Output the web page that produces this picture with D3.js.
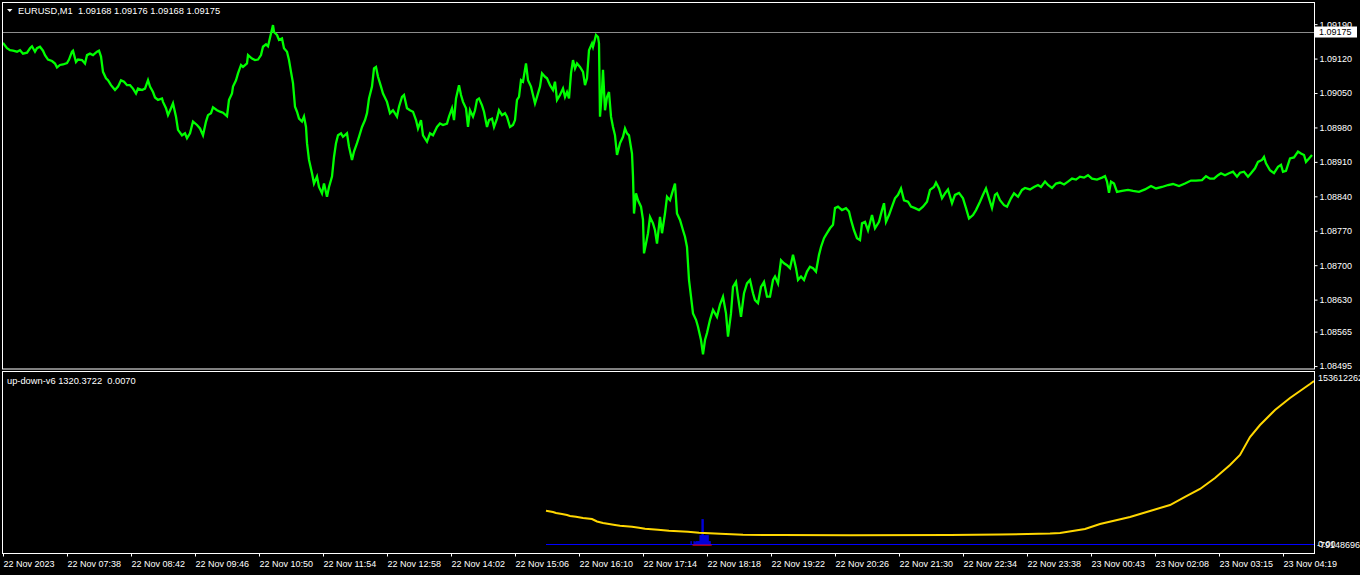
<!DOCTYPE html>
<html>
<head>
<meta charset="utf-8">
<script src="https://cdn.jsdelivr.net/npm/d3@7"></script>
<style>
  body { margin: 0; background: #000; }
  svg { display: block; font-family: "Liberation Sans", Arial, sans-serif; }
</style>
</head>
<body>
<div id="chart"></div>
<script>
// EURUSD M1, minutes counted from the first visible bar (22 Nov 06:34)
const symbol = "EURUSD,M1";
const titleOHLC = ["1.09168", "1.09176", "1.09168", "1.09175"];
const bidPrice = 1.09175;

const closeMorning = [[0,1.09152],[4,1.09141],[7,1.09137],[10,1.09136],[14,1.09134],[17,1.09137],[20,1.09130],[24,1.09132],[27,1.09141],[29,1.09145],[32,1.09134],[34,1.09141],[37,1.09144],[40,1.09136],[42,1.09127],[45,1.09118],[49,1.09115],[52,1.09110],[54,1.09102],[57,1.09107],[60,1.09108],[64,1.09111],[66,1.09118],[69,1.09134],[70,1.09136],[73,1.09113],[75,1.09118],[79,1.09117],[82,1.09110],[84,1.09127],[87,1.09130],[90,1.09127],[94,1.09134],[96,1.09136],[98,1.09124],[100,1.09093],[103,1.09080],[105,1.09076],[108,1.09066],[112,1.09056],[115,1.09063],[118,1.09076],[121,1.09073],[124,1.09066],[127,1.09066],[130,1.09059],[133,1.09049],[135,1.09059],[139,1.09056],[142,1.09059],[145,1.09076],[147,1.09063],[150,1.09052],[152,1.09041],[155,1.09036],[159,1.09039],[160,1.09032],[163,1.09019],[165,1.09005],[168,1.09019],[170,1.09029],[173,1.09002],[175,1.08975],[179,1.08964],[182,1.08968],[184,1.08958],[187,1.08968],[190,1.08992],[194,1.08985],[197,1.08978],[200,1.08964],[203,1.08992],[205,1.09005],[208,1.09009],[210,1.09021],[214,1.09015],[217,1.09012],[220,1.09010],[224,1.09003],[226,1.09036],[229,1.09049],[230,1.09063],[233,1.09076],[235,1.09090],[238,1.09107],[240,1.09103],[244,1.09110],[245,1.09127],[249,1.09120],[252,1.09117],[255,1.09118],[258,1.09127],[260,1.09144],[263,1.09149],[265,1.09145],[268,1.09171],[270,1.09188],[271,1.09174],[274,1.09168],[276,1.09158],[279,1.09161],[281,1.09141],[284,1.09134],[286,1.09117],[288,1.09093],[290,1.09070],[292,1.09022],[294,1.09012],[296,1.08998],[299,1.08992],[301,1.09002],[303,1.08981],[304,1.08948],[306,1.08914],[309,1.08887],[311,1.08866],[314,1.08880],[316,1.08859],[319,1.08846],[321,1.08866],[324,1.08839],[326,1.08859],[329,1.08880],[331,1.08920],[333,1.08948],[335,1.08964],[338,1.08968],[340,1.08961],[344,1.08968],[346,1.08941],[349,1.08914],[351,1.08931],[354,1.08948],[356,1.08961],[359,1.08981],[362,1.08995],[364,1.09009],[366,1.09039],[369,1.09063],[371,1.09100],[373,1.09103],[375,1.09083],[378,1.09063],[380,1.09049],[384,1.09032],[387,1.09009],[390,1.09015],[394,1.09002],[396,1.09022],[399,1.09042],[401,1.09046],[404,1.09019],[407,1.09015],[410,1.09012],[413,1.08995],[415,1.08978],[418,1.08995],[420,1.08964],[424,1.08951],[427,1.08968],[430,1.08964],[434,1.08981]];

const closeAfternoon = [[437,1.08988],[440,1.08985],[444,1.08988],[446,1.09002],[449,1.09019],[451,1.08995],[453,1.09039],[456,1.09066],[458,1.09046],[460,1.09032],[463,1.09019],[465,1.08981],[467,1.09015],[470,1.09002],[472,1.09015],[474,1.09036],[476,1.09039],[479,1.09025],[481,1.09012],[484,1.08981],[486,1.08995],[489,1.08998],[491,1.08981],[494,1.08998],[496,1.09015],[499,1.09005],[502,1.09009],[504,1.09002],[507,1.08981],[510,1.08985],[512,1.08995],[514,1.09036],[516,1.09042],[518,1.09076],[520,1.09073],[523,1.09110],[525,1.09076],[528,1.09063],[530,1.09046],[532,1.09029],[534,1.09042],[537,1.09063],[539,1.09090],[542,1.09083],[544,1.09080],[547,1.09066],[550,1.09056],[552,1.09073],[554,1.09036],[557,1.09046],[560,1.09059],[562,1.09042],[564,1.09052],[566,1.09039],[568,1.09090],[570,1.09117],[572,1.09100],[574,1.09110],[577,1.09103],[580,1.09093],[582,1.09066],[584,1.09080],[586,1.09137],[589,1.09151],[590,1.09144],[593,1.09168],[595,1.09164],[596,1.09151],[597,1.09002],[599,1.09056],[600,1.09097],[602,1.09015],[604,1.09042],[606,1.09052],[608,1.09002],[610,1.08981],[612,1.08964],[614,1.08924],[617,1.08948],[620,1.08961],[622,1.08978],[624,1.08968],[626,1.08964],[629,1.08927],[630,1.08880],[631,1.08805],[633,1.08846],[635,1.08832],[638,1.08819],[640,1.08792],[641,1.08724],[643,1.08744],[645,1.08765],[647,1.08798],[650,1.08785],[652,1.08771],[654,1.08744],[657,1.08798],[659,1.08765],[662,1.08805],[664,1.08839],[667,1.08832],[669,1.08846],[672,1.08866],[674,1.08805],[677,1.08792],[680,1.08771],[682,1.08758],[684,1.08737],[686,1.08670],[688,1.08636],[690,1.08602],[693,1.08589],[695,1.08575],[698,1.08548],[700,1.08519],[702,1.08548],[704,1.08562],[707,1.08589],[710,1.08609],[712,1.08602],[714,1.08595]];

const closeEvening = [[717,1.08620],[720,1.08636],[723,1.08602],[725,1.08555],[728,1.08602],[730,1.08656],[733,1.08666],[735,1.08636],[738,1.08595],[741,1.08643],[744,1.08663],[747,1.08670],[750,1.08643],[752,1.08629],[755,1.08623],[758,1.08656],[761,1.08666],[764,1.08636],[767,1.08636],[770,1.08670],[772,1.08677],[775,1.08663],[778,1.08710],[781,1.08704],[784,1.08700],[787,1.08694],[790,1.08721],[793,1.08694],[795,1.08670],[798,1.08677],[801,1.08670],[804,1.08687],[807,1.08697],[810,1.08694],[813,1.08687],[816,1.08721],[818,1.08737],[821,1.08755],[824,1.08765],[827,1.08775],[830,1.08782],[832,1.08816],[835,1.08819],[839,1.08812],[843,1.08816],[846,1.08809],[848,1.08792],[851,1.08771],[854,1.08755],[857,1.08751],[859,1.08785],[862,1.08788],[865,1.08771],[869,1.08802],[872,1.08775],[876,1.08788],[879,1.08812],[881,1.08826],[883,1.08788],[886,1.08802],[889,1.08819],[892,1.08836],[895,1.08843],[898,1.08856],[901,1.08832],[905,1.08829],[908,1.08819],[912,1.08816],[916,1.08812],[920,1.08819],[924,1.08829],[927,1.08853],[931,1.08859],[933,1.08868],[936,1.08856],[939,1.08836],[942,1.08846],[945,1.08854],[949,1.08826],[952,1.08843],[956,1.08847],[960,1.08836],[963,1.08816],[966,1.08795],[970,1.08802],[973,1.08812],[977,1.08829],[980,1.08843],[983,1.08856],[986,1.08836],[989,1.08816],[992,1.08843],[994,1.08846],[997,1.08832],[1001,1.08822],[1004,1.08819],[1008,1.08836],[1011,1.08846],[1015,1.08839],[1019,1.08853],[1022,1.08857],[1027,1.08854],[1031,1.08859],[1035,1.08863],[1038,1.08859],[1042,1.08870],[1045,1.08863],[1049,1.08857],[1053,1.08866],[1057,1.08868],[1061,1.08864],[1065,1.08870],[1069,1.08876],[1073,1.08874],[1077,1.08880],[1081,1.08878],[1085,1.08883],[1089,1.08876],[1094,1.08874],[1099,1.08878],[1102,1.08881],[1104,1.08870],[1106,1.08847],[1108,1.08870],[1111,1.08866],[1114,1.08849],[1119,1.08851],[1125,1.08853],[1130,1.08851],[1136,1.08849],[1142,1.08854],[1148,1.08861],[1153,1.08856],[1159,1.08859],[1165,1.08863],[1170,1.08865],[1176,1.08861],[1182,1.08866],[1188,1.08872],[1193,1.08872],[1199,1.08873],[1203,1.08881],[1207,1.08876],[1211,1.08876],[1215,1.08883],[1218,1.08887],[1222,1.08883],[1226,1.08887],[1230,1.08890],[1234,1.08880],[1237,1.08888],[1241,1.08890],[1245,1.08880],[1248,1.08887],[1252,1.08897],[1255,1.08910],[1259,1.08914],[1261,1.08920],[1263,1.08907],[1267,1.08893],[1271,1.08887],[1275,1.08900],[1278,1.08904],[1280,1.08890],[1283,1.08892],[1287,1.08917],[1291,1.08919],[1295,1.08931],[1298,1.08927],[1301,1.08924],[1303,1.08910],[1306,1.08917],[1309,1.08924]];

const priceTicks = [1.09190, 1.09120, 1.09050, 1.08980, 1.08910, 1.08840, 1.08770, 1.08700, 1.08630, 1.08565, 1.08495];

const timeTicks = [0, 64, 128, 192, 256, 320, 384, 448, 512, 576, 640, 704, 768, 832, 896, 960, 1024, 1088, 1152, 1216, 1280];
const timeLabels = ["22 Nov 2023", "22 Nov 07:38", "22 Nov 08:42", "22 Nov 09:46", "22 Nov 10:50", "22 Nov 11:54",
  "22 Nov 12:58", "22 Nov 14:02", "22 Nov 15:06", "22 Nov 16:10", "22 Nov 17:14", "22 Nov 18:18", "22 Nov 19:22",
  "22 Nov 20:26", "22 Nov 21:30", "22 Nov 22:34", "22 Nov 23:38", "23 Nov 00:43", "23 Nov 02:08", "23 Nov 03:15", "23 Nov 04:19"];

// up-down-v6 indicator (values in millions)
const indName = "up-down-v6";
const indValues = ["1320.3722", "0.0070"];
const indMax = 1536.122626;
const indMin = -79.148696;
const indLabels = ["1536122626", "0.00", "-79148696"];
const indStart = 543;

const indLine = [[543,298],[550,287],[553,278],[559,269],[564,260],[567,251],[573,245],[580,233],[589,224],[594,202],[600,189],[606,180],[612,171],[617,164],[629,156],[636,147],[642,138],[655,129],[666,120],[685,111],[696,102],[717,93],[740,84],[777,81],[847,79],[947,81],[997,86],[1047,95],[1057,99],[1082,135],[1097,180],[1127,242],[1147,296],[1167,349],[1182,421],[1197,492],[1212,590],[1227,706],[1237,796],[1247,956],[1257,1063],[1272,1197],[1287,1304],[1297,1367],[1307,1429],[1311,1456]];

const upHist = [[688,27],[691,27],[692,18],[693,27],[694,27],[695,27],[696,27],[697,80],[698,80],[699,223],[700,223],[701,80],[702,80],[703,80],[704,80],[705,80],[706,27],[707,27]];
const downHist = [[690,-9],[691,-9],[692,-9],[693,-9],[694,-9],[695,-9],[696,-9],[697,-9],[698,-9],[699,-9],[700,-9],[701,-9],[702,-9],[703,-9],[704,-9],[705,-9],[706,-9],[707,-9],[708,-9]];

const W = 1360, H = 575;

const svg = d3.select("#chart")
              .append("svg")
              .attr("width", W)
              .attr("height", H);

svg.append("rect").attr("width", W).attr("height", H).attr("fill", "#000");

const x = d3.scaleLinear().domain([0, 1311]).range([3, 1314]);
const y = d3.scaleLinear().domain([1.08489, 1.09235]).range([369, 2]);
const yi = d3.scaleLinear().domain([indMin, indMax]).range([553, 372]);

// clip areas for both windows
const defs = svg.append("defs");
defs.append("clipPath").attr("id", "clipMain")
    .append("rect").attr("x", 3).attr("y", 3).attr("width", 1311).attr("height", 366);
defs.append("clipPath").attr("id", "clipInd")
    .append("rect").attr("x", 3).attr("y", 372).attr("width", 1311).attr("height", 181);

// current bid line
svg.append("line")
   .attr("x1", 3).attr("x2", 1314)
   .attr("y1", Math.round(y(bidPrice)) + 0.5).attr("y2", Math.round(y(bidPrice)) + 0.5)
   .attr("stroke", "#8c8c8c");

// price line
const priceLine = d3.line().x(d => x(d[0])).y(d => y(d[1]));
svg.append("path")
   .datum(closeMorning.concat(closeAfternoon, closeEvening))
   .attr("clip-path", "url(#clipMain)")
   .attr("d", priceLine)
   .attr("fill", "none")
   .attr("stroke", "#00ff00")
   .attr("stroke-width", 2.3)
   .attr("stroke-linejoin", "miter");

// indicator window
const gInd = svg.append("g").attr("clip-path", "url(#clipInd)");

gInd.append("line")
    .attr("x1", x(indStart)).attr("x2", x(1311))
    .attr("y1", Math.round(yi(0)) + 0.5).attr("y2", Math.round(yi(0)) + 0.5)
    .attr("stroke", "#0000ff");

gInd.selectAll("rect.up")
    .data(upHist)
    .enter()
    .append("rect")
    .attr("class", "up")
    .attr("x", d => x(d[0]) - 0.5)
    .attr("width", 1.2)
    .attr("y", d => yi(d[1]))
    .attr("height", d => yi(0) - yi(d[1]) + 1)
    .attr("fill", "#0000ff");

gInd.selectAll("rect.down")
    .data(downHist)
    .enter()
    .append("rect")
    .attr("class", "down")
    .attr("x", d => x(d[0]) - 0.5)
    .attr("width", 1.2)
    .attr("y", yi(0) + 0.5)
    .attr("height", d => yi(d[1]) - yi(0))
    .attr("fill", "#ff0000");

gInd.append("path")
    .datum(indLine)
    .attr("d", d3.line().x(d => x(d[0])).y(d => yi(d[1])))
    .attr("fill", "none")
    .attr("stroke", "#ffd700")
    .attr("stroke-width", 2);

// window frames
svg.append("rect")
   .attr("x", 2.5).attr("y", 2.5).attr("width", 1312).attr("height", 366.5)
   .attr("fill", "none").attr("stroke", "#fff");
svg.append("rect")
   .attr("x", 2.5).attr("y", 371.5).attr("width", 1312).attr("height", 182)
   .attr("fill", "none").attr("stroke", "#fff");

// price axis
const yAxis = svg.append("g")
   .attr("transform", "translate(1314.5,0)")
   .call(d3.axisRight(y).tickValues(priceTicks).tickSize(3).tickPadding(2).tickFormat(d3.format(".5f")));
yAxis.select(".domain").remove();
yAxis.selectAll("line").attr("stroke", "#fff");
yAxis.selectAll("text").attr("fill", "#fff").style("font-size", "9px");

// bid label
const bidY = y(bidPrice);
svg.append("rect")
   .attr("x", 1315).attr("y", bidY - 5).attr("width", 42).attr("height", 11)
   .attr("fill", "#fff");
svg.append("text")
   .attr("x", 1319).attr("y", bidY + 3.5)
   .attr("fill", "#000").style("font-size", "9px")
   .text(d3.format(".5f")(bidPrice));

// time axis
const xAxis = svg.append("g")
   .attr("transform", "translate(0,553.5)")
   .call(d3.axisBottom(x).tickValues(timeTicks).tickSize(3).tickFormat((d, i) => timeLabels[i]));
xAxis.select(".domain").remove();
xAxis.selectAll("line").attr("stroke", "#fff");
xAxis.selectAll("text")
     .attr("fill", "#fff")
     .attr("text-anchor", "start")
     .attr("y", 13.5)
     .attr("dy", null)
     .style("font-size", "9px");

// indicator scale labels
svg.append("text").attr("x", 1318).attr("y", 381).attr("fill", "#fff").style("font-size", "9px").text(indLabels[0]);
svg.append("text").attr("x", 1317).attr("y", 548).attr("fill", "#fff").style("font-size", "9px").text(indLabels[2]);
svg.append("text").attr("x", 1318).attr("y", 546.5).attr("fill", "#fff").style("font-size", "9px").text(indLabels[1]);

// window titles
svg.append("path")
   .attr("d", "M7,9 L12.5,9 L9.75,12 Z")
   .attr("fill", "#fff");
svg.append("text")
   .attr("x", 18).attr("y", 14)
   .attr("fill", "#fff")
   .attr("xml:space", "preserve")
   .style("white-space", "pre")
   .style("font-size", "9.3px")
   .text(symbol + "  " + titleOHLC.join(" "));

svg.append("text")
   .attr("x", 7).attr("y", 384)
   .attr("fill", "#fff")
   .style("white-space", "pre")
   .style("font-size", "9.3px")
   .text(indName + " " + indValues.join("  "));
</script>
</body>
</html>
